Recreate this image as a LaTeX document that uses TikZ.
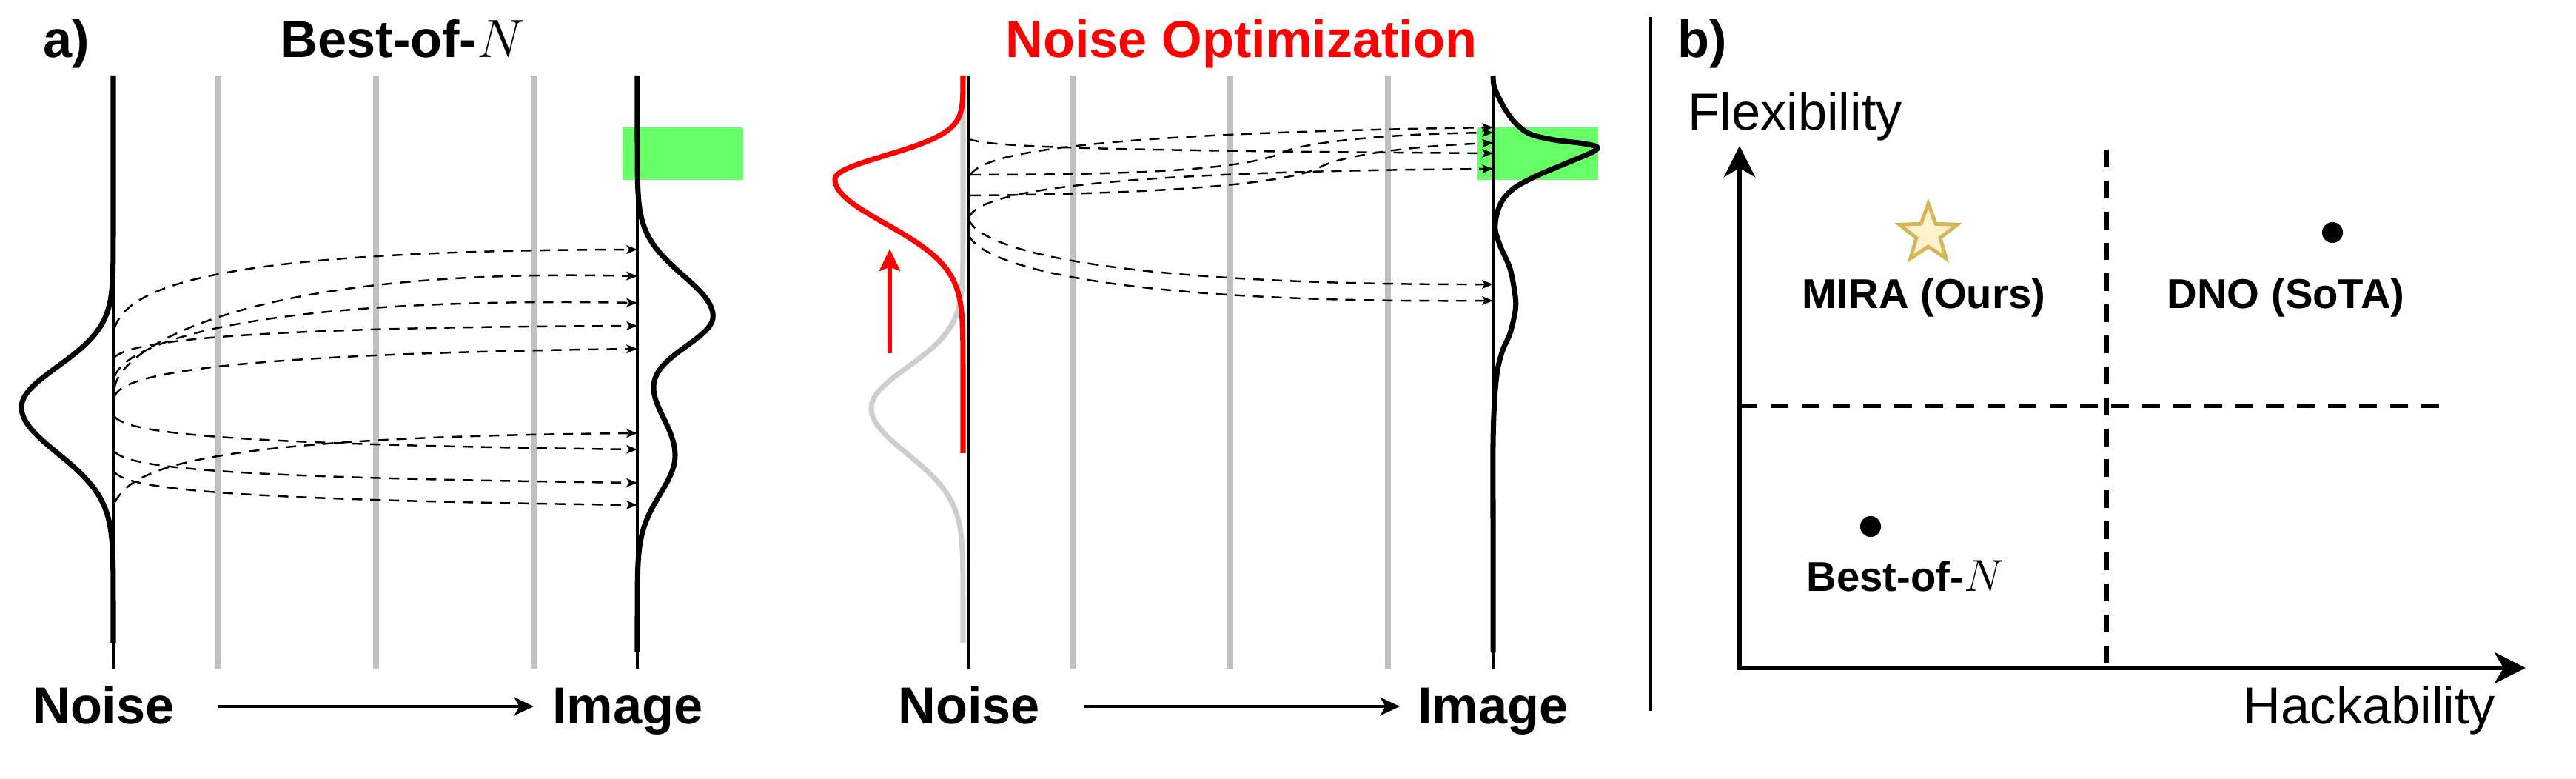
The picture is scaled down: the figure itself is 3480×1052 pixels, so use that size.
\documentclass[tikz,border=0pt]{standalone}
\usepackage{fontspec}
\setmainfont{Liberation Sans}
\usetikzlibrary{arrows.meta}
\definecolor{axgray}{RGB}{192,192,192}
\definecolor{distgray}{RGB}{206,206,206}
\definecolor{boxgreen}{RGB}{102,255,102}
\definecolor{starline}{RGB}{214,182,86}
\definecolor{starfill}{RGB}{255,242,204}
\definecolor{optred}{RGB}{255,0,0}
\begin{document}
\begin{tikzpicture}[x=0.01cm,y=-0.01cm,
  declare function={g(\yy,\mm,\sa,\sb)=exp(-min(0.5*((\yy-\mm)/(\sa+(\sb-\sa)*(\yy>\mm)))^2,12));},
  timeline/.style={axgray,line width=2pt},
  axisline/.style={black,line width=1.1pt},
  dist/.style={line width=2pt,line join=round},
  flow/.style={line width=0.7pt,dash pattern=on 4pt off 3.1pt,-{Stealth[length=4.2pt,width=3.3pt,inset=1pt]}},
  timearrow/.style={line width=1.1pt,-{Stealth[length=7.5pt,width=7pt,inset=2pt]}},
  lbl/.style={font=\fontsize{20}{24}\selectfont\bfseries,inner sep=0pt},
  qlbl/.style={font=\fontsize{16}{19}\selectfont\bfseries,inner sep=0pt},
  axlbl/.style={font=\fontsize{20}{24}\selectfont,inner sep=0pt},
  qaxis/.style={line width=1.7pt,line join=miter},
  quad/.style={line width=1.7pt,dash pattern=on 6.8pt off 5.1pt},
  dot/.style={circle,fill=black,inner sep=0pt,minimum size=8pt}
]
\useasboundingbox (0,0) rectangle (3480,1052);

% ---------- panel a: titles ----------
\node[lbl,anchor=base west] (lbla) at (58,78) {a)};
\node[lbl,anchor=base] (ttlA) at (544,78) {Best-of-$N$};
\node[lbl,anchor=base,text=optred] (ttlB) at (1677,78) {Noise Optimization};

% ---------- time lines ----------
\foreach \gx in {295,508,721,1449,1662,1875}
  \draw[timeline] (\gx,102) -- (\gx,903);

% ---------- green target boxes ----------
\fill[boxgreen] (841,172) rectangle (1004,243);
\fill[boxgreen] (1996,172) rectangle (2159,243);

% ---------- axes ----------
\foreach \ax in {153,861,1309,2017}
  \draw[axisline] (\ax,102) -- (\ax,903);

% ---------- Best-of-N distributions ----------
\draw[dist] plot[domain=102:868,samples=180] ({153-124*g(\x,550,55,62)},\x);
\draw[dist] plot[domain=102:881,samples=220] ({861+102*g(\x,427,55,42)+51*g(\x,615,58,52)},\x);

% ---------- Noise optimization distributions ----------
\draw[dist,distgray] plot[domain=102:868,samples=180] ({1301-124*g(\x,551,55,62)},\x);
\draw[dist,optred] plot[domain=102:612,samples=200] ({1301-173*g(\x,242,32,60)},\x);
\draw[dist] plot[smooth,tension=0.55] coordinates {(2017,102) (2018,115) (2023,128) (2033,147) (2047,166) (2067,181) (2100,189) (2133,193) (2157,198) (2152,205) (2117,220) (2077,237) (2047,253) (2030,270) (2022,290) (2020,310) (2027,333) (2040,363) (2047,400) (2047,420) (2040,450) (2030,473) (2023,500) (2019,540) (2017,600) (2017,700) (2017,881)};

% red shift arrow
\coordinate (rs) at (1202,477);
\coordinate (re) at (1202,336);
\draw[optred,line width=1.7pt,-{Stealth[length=8.5pt,width=8pt,inset=1.5pt]}] (rs) -- (re);

% ---------- flows: Best-of-N ----------
\draw[flow] (155,442) .. controls (175,385) and (300,338) .. (861,337);
\draw[flow] (155,522) .. controls (165,470) and (330,360) .. (861,373);
\draw[flow] (155,508) .. controls (170,465) and (330,400) .. (861,409);
\draw[flow] (155,482) .. controls (180,460) and (330,442) .. (861,440);
\draw[flow] (155,535) .. controls (165,505) and (300,478) .. (861,471);
\draw[flow] (155,563) .. controls (175,585) and (300,600) .. (861,607);
\draw[flow] (155,610) .. controls (175,632) and (300,645) .. (861,652);
\draw[flow] (155,638) .. controls (175,660) and (300,675) .. (861,682);
\draw[flow] (155,678) .. controls (180,635) and (250,590) .. (861,585);

% ---------- flows: Noise optimization ----------
\draw[flow] (1309,188) .. controls (1340,198) and (1450,203) .. (2017,207);
\draw[flow] (1311,236) .. controls (1330,205) and (1480,180) .. (2017,172);
\draw[flow] (1311,236) .. controls (1500,236) and (1680,232) .. (1735,205) .. controls (1755,195) and (1850,181) .. (2017,179);
\draw[flow] (1311,264) .. controls (1550,262) and (1740,250) .. (1785,225) .. controls (1805,214) and (1880,198) .. (2017,193);
\draw[flow] (1309,293) .. controls (1325,262) and (1450,232) .. (2017,228);
\draw[flow] (1309,297) .. controls (1325,335) and (1480,385) .. (2017,384);
\draw[flow] (1309,318) .. controls (1325,355) and (1480,410) .. (2017,406);

% ---------- bottom labels ----------
\node[lbl,anchor=base] (noiseA) at (140,978) {Noise};
\node[lbl,anchor=base] (imageA) at (848,978) {Image};
\node[lbl,anchor=base] (noiseB) at (1309,978) {Noise};
\node[lbl,anchor=base] (imageB) at (2017,978) {Image};
\coordinate (ta1) at (295,954);
\coordinate (ta2) at (721,954);
\coordinate (tb1) at (1465,954);
\coordinate (tb2) at (1891,954);
\draw[timearrow] (ta1) -- (ta2);
\draw[timearrow] (tb1) -- (tb2);

% ---------- divider ----------
\coordinate (dv1) at (2230,23);
\coordinate (dv2) at (2230,960);
\draw[line width=1.3pt] (dv1) -- (dv2);

% ---------- panel b ----------
\node[lbl,anchor=base west] (lblb) at (2266,78) {b)};
\node[axlbl,anchor=base west] (flex) at (2280,176) {Flexibility};
\node[axlbl,anchor=base] (hack) at (3201,977) {Hackability};

\coordinate (ytip) at (2350,197);
\coordinate (orig) at (2350,902);
\coordinate (xtip) at (3412,902);
\draw[qaxis,{Stealth[length=12pt,width=12pt,inset=3.5pt]}-{Stealth[length=12pt,width=12pt,inset=3.5pt]}] (ytip) -- (orig) -- (xtip);

\coordinate (vq1) at (2846,202);
\coordinate (vq2) at (2846,902);
\coordinate (hq1) at (2350,548);
\coordinate (hq2) at (3306,548);
\draw[quad] (vq1) -- (vq2);
\draw[quad] (hq1) -- (hq2);

% star (MIRA)
\coordinate (mira) at (2605,316);
\draw[starline,fill=starfill,line width=1.4pt,line join=miter,shift={(mira)}]
  (-90:41) -- (-54:17) -- (-18:41) -- (18:17) -- (54:41) -- (90:17) -- (126:41) -- (162:17) -- (198:41) -- (234:17) -- cycle;
\node[qlbl,anchor=base] (miraL) at (2599,417) {MIRA (Ours)};

\node[dot] (dno) at (3151,314) {};
\node[qlbl,anchor=base west] (dnoL) at (2927,417) {DNO (SoTA)};

\node[dot] (bon) at (2527,711) {};
\node[qlbl,anchor=base] (bonL) at (2574,798) {Best-of-$N$};
\end{tikzpicture}
\end{document}
